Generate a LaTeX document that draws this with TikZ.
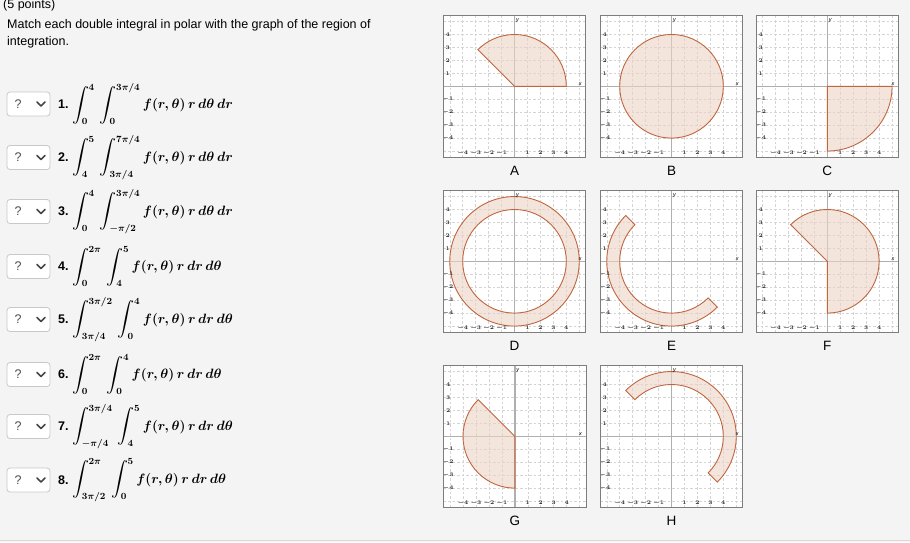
\documentclass[tikz,border=0pt]{standalone}
\usepackage{fix-cm}
\usepackage{amsmath}
\usepackage{graphicx}
\usepackage{fontspec}
\setmainfont{Liberation Sans}
\definecolor{bg}{RGB}{244,244,244}
\definecolor{regstroke}{RGB}{192,102,62}
\definecolor{regfill}{RGB}{236,210,198}
\definecolor{gridc}{RGB}{212,212,212}
\definecolor{axisc}{RGB}{175,175,175}
\definecolor{framec}{RGB}{125,125,125}
\definecolor{dropc}{RGB}{200,200,200}
\definecolor{chevc}{RGB}{70,70,70}
\newcommand\bint[2]{\mathop{\vcenter{\hbox{\scalebox{1.18}{$\displaystyle\intop$}}}}\nolimits_{\mkern-12mu#1}^{\mkern-1mu#2}}
\tikzset{
  gridline/.style={draw=gridc, dash pattern=on 2.5pt off 2pt, line width=0.5pt},
  axisline/.style={draw=axisc, line width=1.5pt},
  framebox/.style={draw=framec, line width=0.8pt},
  ticklab/.style={font=\bfseries\fontsize{5.5}{6}\selectfont, inner sep=0pt, text=black!85},
  axlab/.style={font=\fontsize{5.5}{6}\selectfont\itshape, inner sep=0pt, anchor=west},
  region/.style={draw=regstroke, fill=regfill, fill opacity=0.6, line width=0.9pt},
  graphlab/.style={font=\fontsize{13.5}{16}\selectfont, inner sep=0pt},
  dropbox/.style={draw=dropc, fill=white, rounded corners=3pt, minimum width=43pt, minimum height=24pt, inner sep=0pt, line width=0.8pt},
  qmark/.style={font=\fontsize{12.5}{15}\selectfont, text=black!70, inner sep=0pt},
  chevron/.style={draw=chevc, line width=1.5pt, line cap=round, line join=round},
  numlab/.style={font=\bfseries\fontsize{12.5}{15}\selectfont, anchor=west, inner sep=0pt},
  mathint/.style={font=\fontsize{13.5}{16}\selectfont\boldmath, anchor=west, inner sep=0pt},
  bodytext/.style={font=\fontsize{12.5}{15}\selectfont, anchor=base west, inner sep=0pt},
}
\newcommand\graphframe[3]{%
  \begin{scope}[shift={(#2pt,-#3pt)},x=12.95pt,y=12.95pt]
    \fill[white] (-5.5,-5.5) rectangle (5.5,5.5);
    \foreach \i in {-5,...,5}{
      \draw[gridline] (\i,-5.5) -- (\i,5.5);
      \draw[gridline] (-5.5,\i) -- (5.5,\i);
    }
    \draw[axisline] (-5.5,0) -- (5.5,0);
    \draw[axisline] (0,-5.5) -- (0,5.5);
  \end{scope}}
\newcommand\graphlabels[3]{%
  \begin{scope}[shift={(#2pt,-#3pt)},x=12.95pt,y=12.95pt]
    \foreach \i in {-4,-3,-2,-1,1,2,3,4}{
      \node[ticklab] (#1x\i) at (\i,-5.15) {$\boldsymbol{\i}$};
      \node[ticklab] (#1y\i) at (-5.15,\i) {$\boldsymbol{\i}$};
    }
    \node[axlab] (#1xl) at (4.95,0.2) {x};
    \node[axlab] (#1yl) at (0.1,5.1) {y};
    \draw[framebox] (-5.5,-5.5) rectangle (5.5,5.5);
  \end{scope}}
\begin{document}
\begin{tikzpicture}[x=1pt,y=-1pt]
\useasboundingbox (0,0) rectangle (910,542);
\fill[bg] (0,0) rectangle (910,542);
\draw[draw=black!15, line width=0.8pt] (0,540) -- (910,540);

% header text
\node[bodytext] (pts) at (3,8) {(5 points)};
\node[bodytext] (q1) at (7,28) {Match each double integral in polar with the graph of the region of};
\node[bodytext] (q2) at (7,45) {integration.};

% dropdowns and integrals
\foreach \k/\y in {1/104,2/157.5,3/211.5,4/266.5,5/319.5,6/374.5,7/426.5,8/480}{
  \node[dropbox] (dd\k) at (28.5,\y) {};
  \node[qmark] (qm\k) at (18,\y) {?};
  \draw[chevron] (37,\y-2) -- (41,\y+2) -- (45,\y-2);
  \node[numlab] (n\k) at (58,\y) {\k.};
}
\node[mathint] (i1) at (72,104) {$\bint{0}{4}\,\bint{0}{3\pi/4} f(r,\theta)\,r\,d\theta\,dr$};
\node[mathint] (i2) at (72,157.5) {$\bint{4}{5}\,\bint{3\pi/4}{7\pi/4} f(r,\theta)\,r\,d\theta\,dr$};
\node[mathint] (i3) at (72,211.5) {$\bint{0}{4}\,\bint{-\pi/2}{3\pi/4} f(r,\theta)\,r\,d\theta\,dr$};
\node[mathint] (i4) at (72,266.5) {$\bint{0}{2\pi}\,\bint{4}{5} f(r,\theta)\,r\,dr\,d\theta$};
\node[mathint] (i5) at (72,319.5) {$\bint{3\pi/4}{3\pi/2}\,\bint{0}{4} f(r,\theta)\,r\,dr\,d\theta$};
\node[mathint] (i6) at (72,374.5) {$\bint{0}{2\pi}\,\bint{0}{4} f(r,\theta)\,r\,dr\,d\theta$};
\node[mathint] (i7) at (72,426.5) {$\bint{-\pi/4}{3\pi/4}\,\bint{4}{5} f(r,\theta)\,r\,dr\,d\theta$};
\node[mathint] (i8) at (72,480) {$\bint{3\pi/2}{2\pi}\,\bint{0}{5} f(r,\theta)\,r\,dr\,d\theta$};

% graphs
\graphframe{A}{514.5}{86.3}
\begin{scope}[shift={(514.5pt,-86.3pt)},x=12.95pt,y=12.95pt]
  \path[region] (0,0) -- (4,0) arc[start angle=0,end angle=135,radius=4] -- cycle;
\end{scope}
\graphlabels{A}{514.5}{86.3}

\graphframe{B}{671.5}{86.3}
\begin{scope}[shift={(671.5pt,-86.3pt)},x=12.95pt,y=12.95pt]
  \path[region] (0,0) circle[radius=4];
\end{scope}
\graphlabels{B}{671.5}{86.3}

\graphframe{C}{827.3}{86.3}
\begin{scope}[shift={(827.3pt,-86.3pt)},x=12.95pt,y=12.95pt]
  \path[region] (0,0) -- (0,-5) arc[start angle=270,end angle=360,radius=5] -- cycle;
\end{scope}
\graphlabels{C}{827.3}{86.3}

\graphframe{D}{514.5}{261.3}
\begin{scope}[shift={(514.5pt,-261.3pt)},x=12.95pt,y=12.95pt]
  \path[region, even odd rule] (0,0) circle[radius=5] (0,0) circle[radius=4];
\end{scope}
\graphlabels{D}{514.5}{261.3}

\graphframe{E}{671.5}{261.3}
\begin{scope}[shift={(671.5pt,-261.3pt)},x=12.95pt,y=12.95pt]
  \path[region] (135:4) -- (135:5) arc[start angle=135,end angle=315,radius=5] -- (315:4) arc[start angle=315,end angle=135,radius=4] -- cycle;
\end{scope}
\graphlabels{E}{671.5}{261.3}

\graphframe{F}{827.3}{261.3}
\begin{scope}[shift={(827.3pt,-261.3pt)},x=12.95pt,y=12.95pt]
  \path[region] (0,0) -- (0,-4) arc[start angle=-90,end angle=135,radius=4] -- cycle;
\end{scope}
\graphlabels{F}{827.3}{261.3}

\graphframe{G}{514.8}{436.3}
\begin{scope}[shift={(514.8pt,-436.3pt)},x=12.95pt,y=12.95pt]
  \path[region] (0,0) -- (135:4) arc[start angle=135,end angle=270,radius=4] -- cycle;
\end{scope}
\graphlabels{G}{514.8}{436.3}

\graphframe{H}{671.5}{436.3}
\begin{scope}[shift={(671.5pt,-436.3pt)},x=12.95pt,y=12.95pt]
  \path[region] (-45:4) -- (-45:5) arc[start angle=-45,end angle=135,radius=5] -- (135:4) arc[start angle=135,end angle=-45,radius=4] -- cycle;
\end{scope}
\graphlabels{H}{671.5}{436.3}

% graph letters
\node[graphlab] (LA) at (514.5,171) {A};
\node[graphlab] (LB) at (671.5,171) {B};
\node[graphlab] (LC) at (827.3,171) {C};
\node[graphlab] (LD) at (514.5,346) {D};
\node[graphlab] (LE) at (671.5,346) {E};
\node[graphlab] (LF) at (827.3,346) {F};
\node[graphlab] (LG) at (514.8,521) {G};
\node[graphlab] (LH) at (671.5,521) {H};
\end{tikzpicture}
\end{document}
